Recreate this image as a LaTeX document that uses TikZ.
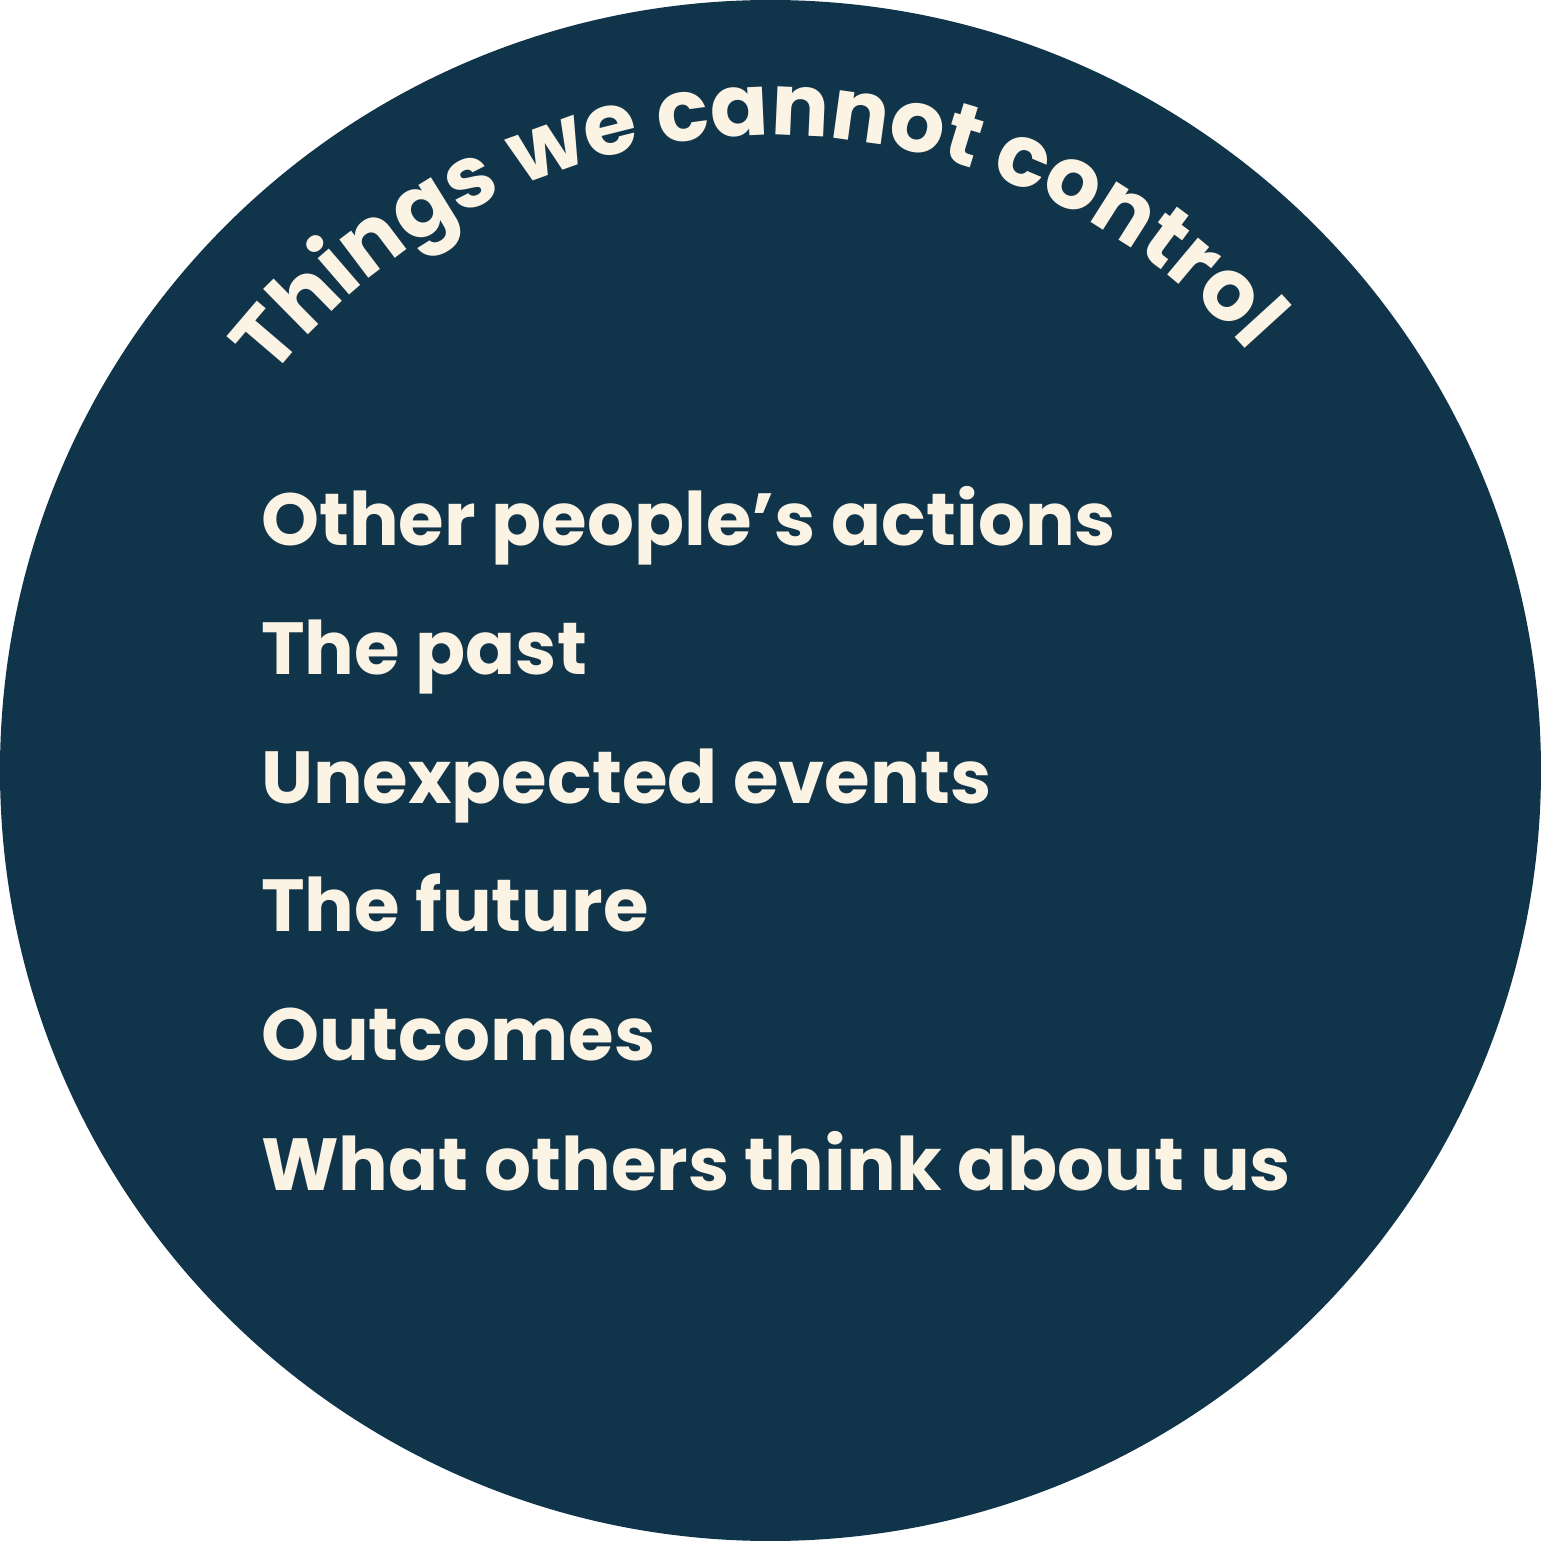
\documentclass[tikz,border=0pt]{standalone}
\usepackage{fontspec}
\setmainfont{Poppins}
\usetikzlibrary{decorations.text}
\definecolor{navy}{HTML}{10344A}
\definecolor{cream}{HTML}{FBF3E4}
\newcommand{\titleFont}{\fontsize{24.5}{24.5}\selectfont\bfseries}
\begin{document}
\begin{tikzpicture}[%%
  itemStyle/.style={anchor=base west,inner sep=0pt,text=cream,font=\fontsize{21}{21}\selectfont\bfseries}
]
%%
\pgfmathsetmacro{\radius}{7.705}
\pgfmathsetmacro{\arcRadius}{6.35}
\coordinate (centre) at (0,0);
\useasboundingbox (-\radius,-\radius) rectangle (\radius,\radius);
%% Background disc.
\fill[navy] (centre) circle[radius=\radius];
%% Curved title.
\path[decorate,decoration={text along path,text align=center,
  text={|\color{cream}\titleFont|Things we cannot control}}]
  (144:\arcRadius) arc[start angle=144,end angle=39,radius=\arcRadius];
%% The list.
\node[itemStyle] (actions) at (-5.1,2.25) {Other people’s actions};
\node[itemStyle] (past) at (-5.1,0.96) {The past};
\node[itemStyle] (events) at (-5.1,-0.33) {Unexpected events};
\node[itemStyle] (future) at (-5.1,-1.61) {The future};
\node[itemStyle] (outcomes) at (-5.1,-2.9) {Outcomes};
\node[itemStyle] (others) at (-5.1,-4.2) {What others think about us};
\end{tikzpicture}
\end{document}
